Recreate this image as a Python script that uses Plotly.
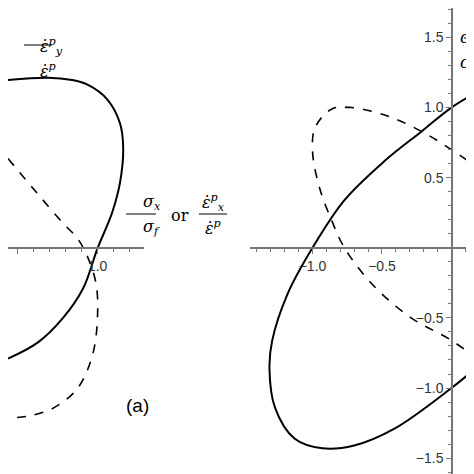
import plotly.graph_objects as go

# --- panel (a): visible part, yield locus (solid) and flow direction (dashed) ---
a_solid_x = [0.44, 0.69, 0.84, 0.94, 1.06, 1.14, 1.16, 1.14, 1.09, 1.0, 0.91, 0.78, 0.625, 0.44]
a_solid_y = [1.05, 1.065, 1.05, 1.02, 0.93, 0.78, 0.625, 0.41, 0.22, 0.0, -0.25, -0.44, -0.59, -0.69]
a_dash_x = [0.44, 0.625, 0.78, 0.875, 0.94, 0.99, 1.0, 0.97, 0.875, 0.72, 0.56, 0.44]
a_dash_y = [0.56, 0.34, 0.16, 0.06, -0.06, -0.22, -0.41, -0.66, -0.875, -1.0, -1.05, -1.06]

# --- panel (b): visible part ---
b_solid_x = [0.22, 0.0, -0.215, -0.48, -0.77, -1.0, -1.18, -1.29, -1.31, -1.27, -1.13, -0.93, -0.70, -0.41, 0.0, 0.22]
b_solid_y = [1.13, 1.0, 0.83, 0.62, 0.34, 0.0, -0.33, -0.66, -0.86, -1.14, -1.36, -1.43, -1.41, -1.29, -1.0, -0.82]
b_dash_x = [0.22, 0.0, -0.215, -0.46, -0.72, -0.86, -0.98, -1.0, -0.95, -0.86, -0.77, -0.57, -0.29, 0.0, 0.22]
b_dash_y = [0.55, 0.70, 0.83, 0.94, 1.0, 0.99, 0.86, 0.69, 0.43, 0.19, 0.0, -0.26, -0.5, -0.66, -0.82]

W = 474
fig = go.Figure()
line_s = dict(color="black", width=2, shape="spline")
line_d = dict(color="black", width=1.6, dash="dash", shape="spline")
fig.add_trace(go.Scatter(x=a_solid_x, y=a_solid_y, mode="lines", line=line_s, xaxis="x", yaxis="y"))
fig.add_trace(go.Scatter(x=a_dash_x, y=a_dash_y, mode="lines", line=line_d, xaxis="x", yaxis="y"))
fig.add_trace(go.Scatter(x=b_solid_x, y=b_solid_y, mode="lines", line=line_s, xaxis="x2", yaxis="y2"))
fig.add_trace(go.Scatter(x=b_dash_x, y=b_dash_y, mode="lines", line=line_d, xaxis="x2", yaxis="y2"))

axcol = "#777777"
tickfont = dict(family="Liberation Sans", size=14, color="#333333")
common = dict(showgrid=False, zeroline=False, showline=True, linecolor=axcol, linewidth=1.5,
              ticks="outside", tickcolor=axcol, ticklen=5, tickformat=".1f", tickfont=tickfont,
              minor=dict(tickmode="linear", tick0=0, dtick=0.1, ticks="outside", ticklen=3,
                         tickcolor=axcol))
ypos = 1 - 240 / W

fig.update_layout(
    width=W, height=W, showlegend=False,
    paper_bgcolor="white", plot_bgcolor="white",
    margin=dict(l=0, r=0, t=0, b=0),
    xaxis=dict(domain=[0, 136 / W], range=[0.44, 1.29], anchor="free", position=ypos,
               tickvals=[0.5, 1.0], **common),
    yaxis=dict(domain=[0, 1], range=[-1.46, 1.5], visible=False),
    xaxis2=dict(domain=[242 / W, 1], range=[-1.45, 0.22], anchor="free", position=ypos,
                tickvals=[-1.0, -0.5], **common),
    yaxis2=dict(domain=[0, 1], range=[-1.67, 1.71], anchor="free", position=444 / W,
                tickvals=[-1.5, -1.0, -0.5, 0.5, 1.0, 1.5], **common),
)

serif = dict(family="DejaVu Serif", size=16, color="black")

def frac(cx, cy, num, den, half=17):
    fig.add_annotation(x=cx / W, y=1 - (cy - 12) / W, xref="paper", yref="paper", text=num,
                       showarrow=False, font=serif)
    fig.add_annotation(x=cx / W, y=1 - (cy + 13) / W, xref="paper", yref="paper", text=den,
                       showarrow=False, font=serif)
    fig.add_shape(type="line", xref="paper", yref="paper", x0=(cx - half) / W, x1=(cx + half) / W,
                  y0=1 - cy / W, y1=1 - cy / W, line=dict(color="black", width=1))

frac(133, 206, "<i>σ<sub>x</sub></i>", "<i>σ<sub>f</sub></i>", 15)
fig.add_annotation(x=172 / W, y=1 - 207 / W, xref="paper", yref="paper", text="or",
                   showarrow=False, font=serif)
frac(205, 206, "<i>ε̇<sup>p</sup><sub>x</sub></i>", "<i>ε̇<sup>p</sup></i>", 14)
frac(30, 37, "<i>ε̇<sup>p</sup><sub>y</sub></i>", "<i>ε̇<sup>p</sup></i>", 14)
fig.add_annotation(x=2 / W, y=1 - 37 / W, xref="paper", yref="paper", text="r", xanchor="right",
                   showarrow=False, font=serif)
frac(466, 30, "<i>σ</i>", "<i>σ</i>", 10)
fig.add_annotation(x=116 / W, y=1 - 410 / W, xref="paper", yref="paper", text="(a)",
                   showarrow=False, font=dict(family="Liberation Sans", size=19, color="black"))

fig.write_html("out.html")
